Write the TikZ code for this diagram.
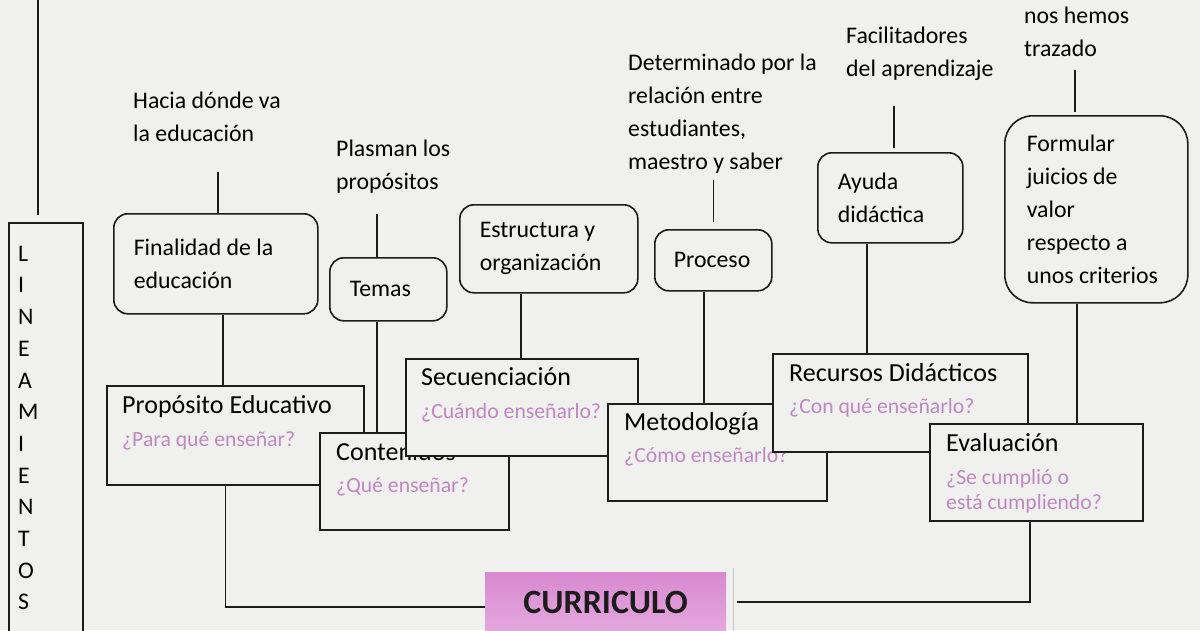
\documentclass[tikz,border=0pt]{standalone}
\usepackage{fontspec}
\setmainfont{Carlito}
\usetikzlibrary{positioning}
\definecolor{paper}{HTML}{F0F0EE}
\definecolor{ink}{HTML}{1C1C1C}
\definecolor{pregunta}{HTML}{C088C0}
\definecolor{rosaTop}{HTML}{D889D0}
\definecolor{rosaBot}{HTML}{E4A8DE}
\newcommand{\notefont}{\fontsize{23.8}{33}\selectfont}
\newcommand{\titlefont}{\fontsize{26}{30}\selectfont}
\newcommand{\askfont}{\fontsize{21.7}{25}\selectfont}
\tikzset{
  link/.style={draw=ink, line width=1.6pt},
  rbox/.style={draw=ink, line width=1.6pt, rounded corners=14pt, fill=paper, anchor=north west, align=flush left, inner xsep=20pt, inner ysep=0pt, font=\notefont},
  sqbox/.style={draw=ink, line width=1.6pt, fill=paper, anchor=north west, inner sep=0pt},
  note/.style={anchor=west, align=left, inner sep=0pt, font=\notefont},
  boxtitle/.style={anchor=west, inner sep=0pt, font=\titlefont, text height=0.72em, text depth=0.22em},
  boxask/.style={anchor=west, align=left, inner sep=0pt, font=\askfont, text=pregunta},
  vletter/.style={anchor=west, inner sep=0pt, font=\notefont, text height=0.64em, text depth=0pt},
}
\begin{document}
\begin{tikzpicture}[x=1pt, y=-1pt]
\useasboundingbox (0,0) rectangle (1200,630);
\fill[paper] (0,0) rectangle (1200,630);

\node[note] (hacia) at (133,116.5) {Hacia dónde va\\la educación};
\node[note] (plasman) at (336,166.5) {Plasman los\\propósitos};
\node[note] (determinado) at (628,113.5) {Determinado por la\\relación entre\\estudiantes,\\maestro y saber};
\node[note] (facilitadores) at (846,53.5) {Facilitadores\\del aprendizaje};
\node[note] (noshemos) at (1024,31.5) {nos hemos\\trazado};

\node[rbox, text width=164pt, minimum height=100pt] (finalidad) at (113,213) {Finalidad de la\\educación};
\node[rbox, text width=77pt, minimum height=63pt] (temas) at (329,257) {Temas};
\node[rbox, text width=138pt, minimum height=88pt] (estructura) at (459,204) {Estructura y\\organización};
\node[rbox, text width=79pt, inner xsep=19pt, minimum height=61pt] (proceso) at (654,229) {Proceso};
\node[rbox, text width=105pt, minimum height=90pt] (ayuda) at (817,152) {Ayuda\\didáctica};
\node[rbox, text width=139pt, inner xsep=22pt, rounded corners=28pt, minimum height=187pt] (formular) at (1004,115) {Formular\\juicios de\\valor\\respecto a\\unos criterios};

\node[sqbox, minimum width=74pt, minimum height=420pt] (lineamientos) at (8,222) {};
\foreach \ch [count=\i from 0] in {L,I,N,E,A,M,I,E,N,T,O,S}
  \node[vletter] (letra\i) at (18,{258+31.7*\i}) {\ch};

\node[anchor=north west, top color=rosaTop, bottom color=rosaBot, minimum width=241pt, minimum height=60pt, inner sep=0pt, text=ink, font=\fontsize{34}{40}\selectfont\bfseries] (curriculo) at (485,572) {CURRICULO};
\draw[gray!45, line width=1.2pt] ([xshift=7pt,yshift=4pt]curriculo.north east) -- ([xshift=7pt]curriculo.south east);

\coordinate (lineaTop) at (38,0);
\draw[link] (lineaTop) -- ([yshift=7pt]lineaTop |- lineamientos.north);
\draw[link] ([xshift=2pt]finalidad.north) -- ++(0,-41);
\draw[link] ([xshift=-11.5pt]temas.north) -- ++(0,-43);
\draw[link] ([yshift=7pt]proceso.north) -- ++(0,-42);
\draw[link] ([xshift=3.5pt,yshift=4pt]ayuda.north) -- ++(0,-42);
\draw[link] ([xshift=-21.5pt,yshift=3pt]formular.north) -- ++(0,-42);

\node[sqbox, minimum width=257pt, minimum height=99pt] (proposito) at (106,385) {};
\node[boxtitle] (propositoT) at ([shift={(16,26)}]proposito.north west) {Propósito Educativo};
\node[boxask] (propositoQ) at ([shift={(16,56)}]proposito.north west) {¿Para qué enseñar?};

\node[sqbox, minimum width=189pt, minimum height=97pt] (contenidos) at (319,432) {};
\node[boxtitle] (contenidosT) at ([shift={(17,26)}]contenidos.north west) {Contenidos};
\node[boxask] (contenidosQ) at ([shift={(17,55)}]contenidos.north west) {¿Qué enseñar?};

\node[sqbox, minimum width=232pt, minimum height=97pt] (secuenciacion) at (405,358) {};
\node[boxtitle] (secuenciacionT) at ([shift={(16,25)}]secuenciacion.north west) {Secuenciación};
\node[boxask] (secuenciacionQ) at ([shift={(16,55)}]secuenciacion.north west) {¿Cuándo enseñarlo?};

\node[sqbox, minimum width=219pt, minimum height=97pt] (metodologia) at (607,403) {};
\node[boxtitle] (metodologiaT) at ([shift={(17,25)}]metodologia.north west) {Metodología};
\node[boxask] (metodologiaQ) at ([shift={(17,54)}]metodologia.north west) {¿Cómo enseñarlo?};

\node[sqbox, minimum width=255pt, minimum height=98pt] (recursos) at (772,353) {};
\node[boxtitle] (recursosT) at ([shift={(17,26)}]recursos.north west) {Recursos Didácticos};
\node[boxask] (recursosQ) at ([shift={(17,55)}]recursos.north west) {¿Con qué enseñarlo?};

\node[sqbox, minimum width=213pt, minimum height=97pt] (evaluacion) at (929,423) {};
\node[boxtitle] (evaluacionT) at ([shift={(17,26)}]evaluacion.north west) {Evaluación};
\node[boxask] (evaluacionQ) at ([shift={(17,68.5)}]evaluacion.north west) {¿Se cumplió o\\está cumpliendo?};

\draw[link] ([xshift=7pt]finalidad.south) -- ([xshift=7pt]finalidad.south |- proposito.north);
\draw[link] ([xshift=-10pt]proposito.south) |- ([yshift=-5pt]curriculo.west);
\draw[link] ([xshift=-11.5pt]temas.south) -- ([xshift=-11.5pt]temas.south |- contenidos.north);
\draw[link] ([xshift=-28pt]estructura.south) -- ([xshift=-28pt]estructura.south |- secuenciacion.north);
\draw[link] ([xshift=-9.5pt]proceso.south) -- ([xshift=-9.5pt]proceso.south |- metodologia.north);
\draw[link] ([xshift=-23.5pt]ayuda.south) -- ([xshift=-23.5pt]ayuda.south |- recursos.north);
\draw[link] ([xshift=-19.5pt]formular.south) -- ([xshift=-19.5pt]formular.south |- evaluacion.north);
\draw[link] ([xshift=-6.5pt]evaluacion.south) |- ([xshift=11pt]curriculo.east);
\end{tikzpicture}
\end{document}
